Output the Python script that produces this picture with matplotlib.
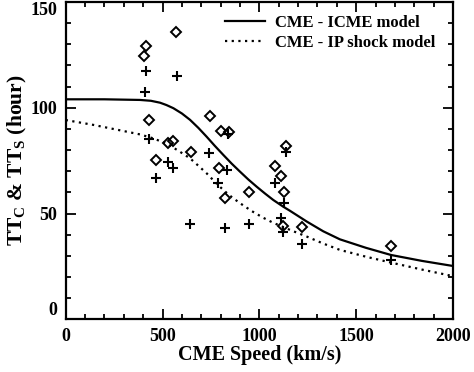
import matplotlib
matplotlib.use("Agg")
import matplotlib.pyplot as plt
from matplotlib.ticker import MultipleLocator

plt.rcParams['font.family'] = 'Liberation Serif'
plt.rcParams['font.weight'] = 'bold'
plt.rcParams['mathtext.fontset'] = 'custom'
plt.rcParams['mathtext.rm'] = 'Liberation Serif:bold'
plt.rcParams['mathtext.it'] = 'Liberation Serif:bold'
plt.rcParams['mathtext.bf'] = 'Liberation Serif:bold'

# Observed ICME transit times (diamonds)
icme_speed = [415, 406, 571, 429, 466, 527, 554, 645, 744, 802, 845, 790, 821, 948,
              1138, 1081, 1110, 1127, 1121, 1219, 1680]
icme_tt = [129.2, 124.6, 135.7, 94.2, 75.5, 83.4, 84.4, 79.0, 96.1, 89.2, 88.7, 71.4,
           57.4, 60.3, 82.1, 72.5, 67.6, 60.0, 44.1, 43.5, 34.8]

# Observed IP shock transit times (plus)
shock_speed = [415, 410, 573, 429, 466, 527, 554, 643, 742, 837, 832, 785, 821, 948,
               1138, 1081, 1127, 1110, 1124, 1219, 1680]
shock_tt = [117.4, 107.6, 115.0, 85.1, 66.7, 74.5, 71.5, 45.1, 78.8, 87.5, 70.6, 64.3,
            43.0, 45.1, 79.3, 64.6, 55.1, 47.8, 41.1, 35.6, 28.0]

# Model curves
icme_model_speed = [0, 200, 384, 440, 487, 520, 556, 600, 642, 685, 728, 770, 814, 857,
                    900, 943, 986, 1030, 1072, 1124, 1158, 1245, 1330, 1416, 1550,
                    1680, 1840, 2000]
icme_model_tt = [104.0, 104.0, 103.7, 103.3, 102.4, 101.3, 99.8, 97.3, 94.3, 90.5,
                 86.3, 82.0, 77.7, 73.6, 69.8, 66.1, 62.7, 59.4, 56.4, 53.2, 51.3,
                 46.2, 41.6, 37.8, 33.8, 30.4, 27.6, 25.2]

shock_model_speed = [0, 143, 315, 384, 450, 522, 580, 642, 685, 728, 770, 814, 857,
                     900, 960, 1020, 1072, 1160, 1245, 1330, 1416, 1550, 1680, 1840,
                     2000]
shock_model_tt = [94.2, 91.9, 88.7, 87.4, 85.6, 83.0, 79.8, 76.1, 72.6, 69.0, 65.0,
                  61.1, 57.8, 54.9, 51.2, 48.0, 45.6, 42.2, 39.1, 35.8, 32.8, 29.6,
                  26.8, 23.5, 20.4]

fig = plt.figure(figsize=(4.74, 3.72), dpi=100)
ax = fig.add_axes([0.1386, 0.1417, 0.9557 - 0.1386, 0.9946 - 0.1417])

ax.plot(icme_model_speed, icme_model_tt, color='black', lw=1.6, ls='-',
        label='CME - ICME model')
ax.plot(shock_model_speed, shock_model_tt, color='black', lw=1.6, ls=(0, (1, 2)),
        label='CME - IP shock model')

ax.plot(icme_speed, icme_tt, ls='none', marker='D', ms=5.5, mfc='none', mec='black',
        mew=1.4)
ax.plot(shock_speed, shock_tt, ls='none', marker='+', ms=7, mec='black', mew=1.5)

ax.set_xlim(0, 2000)
ax.set_ylim(0, 150)
ax.xaxis.set_major_locator(MultipleLocator(500))
ax.xaxis.set_minor_locator(MultipleLocator(100))
ax.set_yticks([0, 50, 100, 150])
ax.yaxis.set_minor_locator(MultipleLocator(10))
ax.tick_params(which='both', direction='in', top=True, right=True, width=1.3,
               labelsize=13, pad=6)
ax.tick_params(which='major', length=7)
ax.tick_params(which='minor', length=3.5)
for s in ax.spines.values():
    s.set_linewidth(1.6)
fig.canvas.draw()
for lab in ax.get_xticklabels() + ax.get_yticklabels():
    lab.set_fontweight('bold')
for lab in ax.get_yticklabels():
    if lab.get_text() == '150':
        lab.set_va('top')
    elif lab.get_text() == '0':
        lab.set_va('bottom')

ax.set_xlabel('CME Speed (km/s)', fontsize=14.5, fontweight='bold', labelpad=0)
ax.set_ylabel(r'TT$_{\rm C}$ & TT$_{\rm S}$ (hour)', fontsize=15.5, fontweight='bold',
              labelpad=1)

leg = ax.legend(loc='upper right', bbox_to_anchor=(0.986, 1.0), frameon=False,
                fontsize=12, handlelength=2.4, borderaxespad=0.35,
                labelspacing=0.25, handletextpad=0.6)
for t in leg.get_texts():
    t.set_fontweight('bold')

fig.savefig('out.png', dpi=100)
